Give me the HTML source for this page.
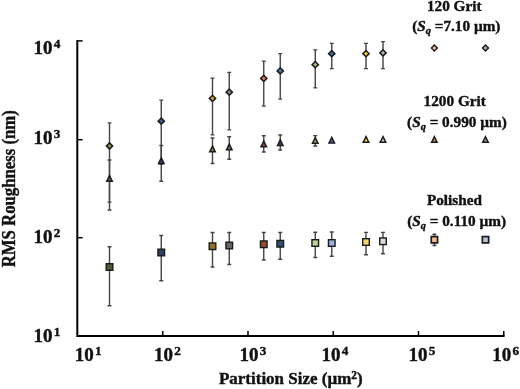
<!DOCTYPE html>
<html><head><meta charset="utf-8"><title>RMS Roughness vs Partition Size</title>
<style>
html,body{margin:0;padding:0;background:#fff;}
svg{display:block;filter:blur(0.3px);}
text{font-family:"Liberation Serif","DejaVu Serif",serif;font-weight:bold;fill:#111;stroke:#111;stroke-width:0.4px;}
</style></head>
<body>
<svg width="520" height="389" viewBox="0 0 520 389">
<rect width="520" height="389" fill="#fff"/>
<path d="M77.3 40.1V336.0H504.6" stroke="#000" stroke-width="2" fill="none"/>
<path d="M162.75 336V331" stroke="#000" stroke-width="1.5"/>
<path d="M248.0 336V331" stroke="#000" stroke-width="1.5"/>
<path d="M333.25 336V331" stroke="#000" stroke-width="1.5"/>
<path d="M418.5 336V331" stroke="#000" stroke-width="1.5"/>
<path d="M503.75 336V331" stroke="#000" stroke-width="1.5"/>
<path d="M77.3 237.7H82.6" stroke="#000" stroke-width="1.5"/>
<path d="M77.3 139.7H82.6" stroke="#000" stroke-width="1.5"/>
<path d="M77.3 40.9H82.6" stroke="#000" stroke-width="1.5"/>
<path d="M109.5 122.9V202.15M107.55 122.9H111.45M107.55 202.15H111.45" stroke="#444444" stroke-width="1.4" fill="none"/>
<path d="M109.5 160V210M107.55 160H111.45M107.55 210H111.45" stroke="#444444" stroke-width="1.4" fill="none"/>
<path d="M109.5 246.75V305.75M107.55 246.75H111.45M107.55 305.75H111.45" stroke="#444444" stroke-width="1.4" fill="none"/>
<path d="M161.25 100.15V164.4M159.3 100.15H163.2M159.3 164.4H163.2" stroke="#444444" stroke-width="1.4" fill="none"/>
<path d="M161.25 145.5V181.25M159.3 145.5H163.2M159.3 181.25H163.2" stroke="#444444" stroke-width="1.4" fill="none"/>
<path d="M161.25 235.5V280.75M159.3 235.5H163.2M159.3 280.75H163.2" stroke="#444444" stroke-width="1.4" fill="none"/>
<path d="M212.5 78.15V134.9M210.55 78.15H214.45M210.55 134.9H214.45" stroke="#444444" stroke-width="1.4" fill="none"/>
<path d="M212.5 138V163.5M210.55 138H214.45M210.55 163.5H214.45" stroke="#444444" stroke-width="1.4" fill="none"/>
<path d="M212.5 232.5V267M210.55 232.5H214.45M210.55 267H214.45" stroke="#444444" stroke-width="1.4" fill="none"/>
<path d="M229.25 72.4V129.9M227.3 72.4H231.2M227.3 129.9H231.2" stroke="#444444" stroke-width="1.4" fill="none"/>
<path d="M229.25 136.75V159.25M227.3 136.75H231.2M227.3 159.25H231.2" stroke="#444444" stroke-width="1.4" fill="none"/>
<path d="M229.25 232.5V264.5M227.3 232.5H231.2M227.3 264.5H231.2" stroke="#444444" stroke-width="1.4" fill="none"/>
<path d="M263.75 61.15V106.15M261.8 61.15H265.7M261.8 106.15H265.7" stroke="#444444" stroke-width="1.4" fill="none"/>
<path d="M263.75 135.75V152M261.8 135.75H265.7M261.8 152H265.7" stroke="#444444" stroke-width="1.4" fill="none"/>
<path d="M263.75 232.5V260M261.8 232.5H265.7M261.8 260H265.7" stroke="#444444" stroke-width="1.4" fill="none"/>
<path d="M280.25 53.65V99.15M278.3 53.65H282.2M278.3 99.15H282.2" stroke="#444444" stroke-width="1.4" fill="none"/>
<path d="M280.25 135V150M278.3 135H282.2M278.3 150H282.2" stroke="#444444" stroke-width="1.4" fill="none"/>
<path d="M280.25 232.5V259.25M278.3 232.5H282.2M278.3 259.25H282.2" stroke="#444444" stroke-width="1.4" fill="none"/>
<path d="M315.25 49.9V87.9M313.3 49.9H317.2M313.3 87.9H317.2" stroke="#444444" stroke-width="1.4" fill="none"/>
<path d="M315.25 135.6V146M313.3 135.6H317.2M313.3 146H317.2" stroke="#444444" stroke-width="1.4" fill="none"/>
<path d="M315.25 232.25V257.5M313.3 232.25H317.2M313.3 257.5H317.2" stroke="#444444" stroke-width="1.4" fill="none"/>
<path d="M331.75 43.4V68.65M329.8 43.4H333.7M329.8 68.65H333.7" stroke="#444444" stroke-width="1.4" fill="none"/>
<path d="M331.75 232V256.25M329.8 232H333.7M329.8 256.25H333.7" stroke="#444444" stroke-width="1.4" fill="none"/>
<path d="M366.0 43.4V68.65M364.05 43.4H367.95M364.05 68.65H367.95" stroke="#444444" stroke-width="1.4" fill="none"/>
<path d="M366.0 232.4V254.7M364.05 232.4H367.95M364.05 254.7H367.95" stroke="#444444" stroke-width="1.4" fill="none"/>
<path d="M383.0 41.65V68.65M381.05 41.65H384.95M381.05 68.65H384.95" stroke="#444444" stroke-width="1.4" fill="none"/>
<path d="M383.0 232.4V253.7M381.05 232.4H384.95M381.05 253.7H384.95" stroke="#444444" stroke-width="1.4" fill="none"/>
<path d="M434.4 234.25V245.5M432.45 234.25H436.34999999999997M432.45 245.5H436.34999999999997" stroke="#444444" stroke-width="1.4" fill="none"/>
<rect x="106.2" y="263.7" width="6.6" height="6.6" fill="#4a5c2e" stroke="#1a1a1a" stroke-width="1.4"/>
<path d="M109.5 175.7L112.25 181.2H106.75Z" fill="#5a6640" stroke="#1a1a1a" stroke-width="1.5" stroke-linejoin="miter"/>
<path d="M109.5 142.85L112.65 146.0L109.5 149.15L106.35 146.0Z" fill="#7a9850" stroke="#1a1a1a" stroke-width="1.5"/>
<rect x="157.95" y="249.2" width="6.6" height="6.6" fill="#2c4070" stroke="#1a1a1a" stroke-width="1.4"/>
<path d="M161.25 157.95L164.0 163.45H158.5Z" fill="#40427a" stroke="#1a1a1a" stroke-width="1.5" stroke-linejoin="miter"/>
<path d="M161.25 118.0L164.4 121.15L161.25 124.30000000000001L158.1 121.15Z" fill="#425c88" stroke="#1a1a1a" stroke-width="1.5"/>
<rect x="209.2" y="242.95" width="6.6" height="6.6" fill="#8f7228" stroke="#1a1a1a" stroke-width="1.4"/>
<path d="M212.5 146.2L215.25 151.7H209.75Z" fill="#8b8050" stroke="#1a1a1a" stroke-width="1.5" stroke-linejoin="miter"/>
<path d="M212.5 95.25L215.65 98.4L212.5 101.55000000000001L209.35 98.4Z" fill="#d4a444" stroke="#1a1a1a" stroke-width="1.5"/>
<rect x="225.95" y="242.2" width="6.6" height="6.6" fill="#666666" stroke="#1a1a1a" stroke-width="1.4"/>
<path d="M229.25 144.2L232.0 149.7H226.5Z" fill="#6e6e6e" stroke="#1a1a1a" stroke-width="1.5" stroke-linejoin="miter"/>
<path d="M229.25 89.0L232.4 92.15L229.25 95.30000000000001L226.1 92.15Z" fill="#8a8a8a" stroke="#1a1a1a" stroke-width="1.5"/>
<rect x="260.45" y="240.95" width="6.6" height="6.6" fill="#9a4a30" stroke="#1a1a1a" stroke-width="1.4"/>
<path d="M263.75 141.2L266.5 146.7H261.0Z" fill="#a04838" stroke="#1a1a1a" stroke-width="1.5" stroke-linejoin="miter"/>
<path d="M263.75 75.25L266.9 78.4L263.75 81.55000000000001L260.6 78.4Z" fill="#d08050" stroke="#1a1a1a" stroke-width="1.5"/>
<rect x="276.95" y="240.45" width="6.6" height="6.6" fill="#2f4f70" stroke="#1a1a1a" stroke-width="1.4"/>
<path d="M280.25 139.95L283.0 145.45H277.5Z" fill="#2f5080" stroke="#1a1a1a" stroke-width="1.5" stroke-linejoin="miter"/>
<path d="M280.25 67.75L283.4 70.9L280.25 74.05000000000001L277.1 70.9Z" fill="#5074a8" stroke="#1a1a1a" stroke-width="1.5"/>
<rect x="311.95" y="239.7" width="6.6" height="6.6" fill="#b5d58a" stroke="#1a1a1a" stroke-width="1.4"/>
<path d="M315.25 137.7L318.0 143.2H312.5Z" fill="#8db870" stroke="#1a1a1a" stroke-width="1.5" stroke-linejoin="miter"/>
<path d="M315.25 61.50000000000001L318.4 64.65L315.25 67.80000000000001L312.1 64.65Z" fill="#9cc484" stroke="#1a1a1a" stroke-width="1.5"/>
<rect x="328.45" y="239.7" width="6.6" height="6.6" fill="#9ab0e0" stroke="#1a1a1a" stroke-width="1.4"/>
<path d="M331.75 137.45L334.5 142.95H329.0Z" fill="#4a68b8" stroke="#1a1a1a" stroke-width="1.5" stroke-linejoin="miter"/>
<path d="M331.75 50.5L334.9 53.65L331.75 56.8L328.6 53.65Z" fill="#4a68b0" stroke="#1a1a1a" stroke-width="1.5"/>
<rect x="362.7" y="238.7" width="6.6" height="6.6" fill="#f5d868" stroke="#1a1a1a" stroke-width="1.4"/>
<path d="M366.0 136.7L368.75 142.2H363.25Z" fill="#f5d820" stroke="#1a1a1a" stroke-width="1.5" stroke-linejoin="miter"/>
<path d="M366.0 50.5L369.15 53.65L366.0 56.8L362.85 53.65Z" fill="#f8c830" stroke="#1a1a1a" stroke-width="1.5"/>
<rect x="379.7" y="237.95" width="6.6" height="6.6" fill="#d8d8d8" stroke="#1a1a1a" stroke-width="1.4"/>
<path d="M383.0 136.7L385.75 142.2H380.25Z" fill="#c8c8c8" stroke="#1a1a1a" stroke-width="1.5" stroke-linejoin="miter"/>
<path d="M383.0 49.75L386.15 52.9L383.0 56.05L379.85 52.9Z" fill="#b0b0b0" stroke="#1a1a1a" stroke-width="1.5"/>
<rect x="431.25" y="236.6" width="6.3" height="6.3" fill="#f2bc98" stroke="#1a1a1a" stroke-width="1.7"/>
<path d="M434.4 136.75L437.15 142.25H431.65Z" fill="#dc8448" stroke="#1a1a1a" stroke-width="1.5" stroke-linejoin="miter"/>
<path d="M434.4 45.05L437.4 48.05L434.4 51.05L431.4 48.05Z" fill="#ecbc9c" stroke="#1a1a1a" stroke-width="1.4"/>
<rect x="482.35" y="236.6" width="6.3" height="6.3" fill="#b0c6e0" stroke="#1a1a1a" stroke-width="1.7"/>
<path d="M485.5 136.75L488.25 142.25H482.75Z" fill="#8a9cc0" stroke="#1a1a1a" stroke-width="1.5" stroke-linejoin="miter"/>
<path d="M485.5 45.05L488.5 48.05L485.5 51.05L482.5 48.05Z" fill="#98a8c8" stroke="#1a1a1a" stroke-width="1.4"/>
<text transform="translate(33.4 53.8) scale(1 1)" font-size="19">10<tspan dx="1.3" dy="-5.9" font-size="13.2">4</tspan></text>
<text transform="translate(33.4 144) scale(1 1)" font-size="19">10<tspan dx="1.3" dy="-5.9" font-size="13.2">3</tspan></text>
<text transform="translate(33.4 243.3) scale(1 1)" font-size="19">10<tspan dx="1.3" dy="-5.9" font-size="13.2">2</tspan></text>
<text transform="translate(33.4 342) scale(1 1)" font-size="19">10<tspan dx="1.3" dy="-5.9" font-size="13.2">1</tspan></text>
<text transform="translate(74.8 361.2) scale(1 1)" font-size="19">10<tspan dx="1.3" dy="-5.9" font-size="13.2">1</tspan></text>
<text transform="translate(154.0 361.2) scale(1 1)" font-size="19">10<tspan dx="1.3" dy="-5.9" font-size="13.2">2</tspan></text>
<text transform="translate(239.5 361.2) scale(1 1)" font-size="19">10<tspan dx="1.3" dy="-5.9" font-size="13.2">3</tspan></text>
<text transform="translate(321.5 361.2) scale(1 1)" font-size="19">10<tspan dx="1.3" dy="-5.9" font-size="13.2">4</tspan></text>
<text transform="translate(408.5 361.2) scale(1 1)" font-size="19">10<tspan dx="1.3" dy="-5.9" font-size="13.2">5</tspan></text>
<text transform="translate(492.2 361.2) scale(1 1)" font-size="19">10<tspan dx="1.3" dy="-5.9" font-size="13.2">6</tspan></text>
<text id="xl" transform="translate(290.8 384.4) scale(0.96 1)" font-size="17.7" text-anchor="middle">Partition Size (µm<tspan dy="-5.5" font-size="11.8">2</tspan><tspan dy="5.5">)</tspan></text>
<text id="yl" transform="translate(15.3 188.7) rotate(-90) scale(0.925 1)" font-size="18.1" text-anchor="middle">RMS Roughness (nm)</text>
<g font-size="15.4" text-anchor="middle">
<text id="l1a" transform="translate(454.2 11.2) scale(0.99 1)">120 Grit</text>
<text id="l1b" transform="translate(456.3 31.0) scale(0.99 1)">(<tspan font-style="italic">S</tspan><tspan font-style="italic" font-size="10.5" dy="3.0">q</tspan><tspan dy="-3.0"> =7.10 µm)</tspan></text>
<text id="l2a" transform="translate(454.7 106.4) scale(0.99 1)">1200 Grit</text>
<text id="l2b" transform="translate(456.9 126.5) scale(0.99 1)">(<tspan font-style="italic">S</tspan><tspan font-style="italic" font-size="10.5" dy="3.0">q</tspan><tspan dy="-3.0"> = 0.990 µm)</tspan></text>
<text id="l3a" transform="translate(454.4 205.2) scale(0.99 1)">Polished</text>
<text id="l3b" transform="translate(456.6 226.1) scale(0.99 1)">(<tspan font-style="italic">S</tspan><tspan font-style="italic" font-size="10.5" dy="3.0">q</tspan><tspan dy="-3.0"> = 0.110 µm)</tspan></text>
</g>
</svg>
</body></html>
